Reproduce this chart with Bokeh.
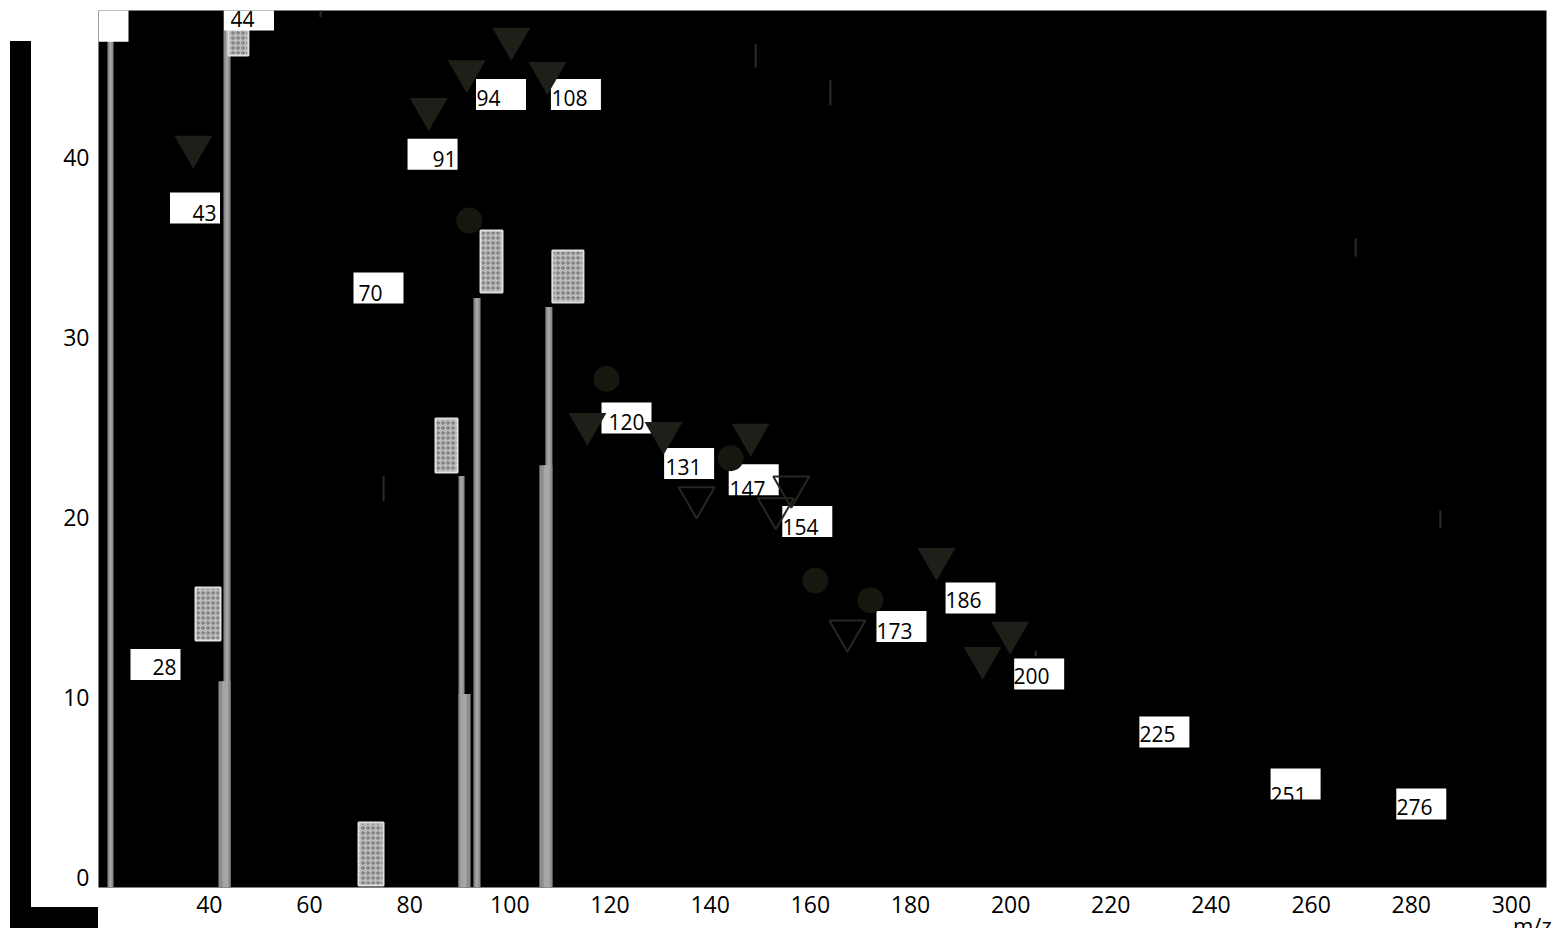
from bokeh.plotting import figure
from bokeh.models import Range1d, FixedTicker, BoxAnnotation, Div
from bokeh.layouts import column
from bokeh.core.properties import value
from bokeh.embed import file_html
from bokeh.resources import INLINE

# ---- data ----
x_lo, x_hi = 17.87, 307.0
y_lo, y_hi = -0.556, 48.17
x_ticks = [40, 60, 80, 100, 120, 140, 160, 180, 200, 220, 240, 260, 280, 300]
y_ticks = [0, 10, 20, 30, 40]
x_title = "m/z"

# grey peak bars (m/z position, top intensity)
bar_x = [20.27, 43.53, 43.03, 90.36, 90.96, 93.45, 107.8, 107.2]
bar_top = [100.0, 100.0, 10.9, 22.3, 10.2, 32.2, 31.7, 22.9]
bar_w = [1.2, 1.4, 2.4, 1.2, 2.4, 1.4, 1.4, 2.6]

# hatched blocks
blk_left = [37.24, 69.79, 85.16, 94.15, 108.5, 43.83]
blk_right = [42.23, 74.78, 89.56, 98.54, 114.7, 47.8]
blk_bottom = [13.17, -0.44, 22.5, 32.5, 31.94, 45.67]
blk_top = [16.11, 3.06, 25.5, 35.94, 34.83, 47.3]

# filled inverted triangles
tri_x = [36.8, 83.8, 91.4, 100.3, 107.5, 115.5, 130.7, 148.1, 185.2, 199.9, 194.4]
tri_y = [40.6, 42.7, 44.8, 46.6, 44.7, 25.2, 24.7, 24.6, 17.7, 13.6, 12.2]
# open inverted triangles
otri_x = [137.3, 156.2, 153.1, 167.4]
otri_y = [21.1, 21.7, 20.5, 13.7]
# circles
circ_x = [91.9, 119.3, 144.1, 161.0, 172.0]
circ_y = [36.5, 27.7, 23.3, 16.5, 15.4]

# peak labels
lab_text = ["44", "43", "28", "70", "91", "94", "108", "120", "131", "147",
            "154", "173", "186", "200", "225", "251", "276"]
box_x = [47.92, 37.14, 29.25, 73.78, 84.57, 98.24, 113.2, 123.3, 135.8, 148.7,
         159.4, 178.2, 192.0, 205.7, 230.7, 256.9, 282.0]
box_y = [47.92, 37.19, 11.83, 32.75, 40.19, 43.5, 43.5, 25.53, 23.0, 22.1,
         19.78, 13.94, 15.53, 11.31, 8.08, 5.19, 4.08]
txt_x = [44.23, 36.64, 28.65, 69.79, 84.56, 93.35, 108.33, 119.71, 131.09, 143.87,
         154.45, 173.22, 187.0, 200.58, 225.74, 251.9, 277.06]
txt_y = [47.67, 36.94, 11.67, 32.5, 39.94, 43.33, 43.33, 25.33, 22.78, 21.61,
         19.5, 13.72, 15.44, 11.22, 8.0, 4.56, 3.89]

# faint noise specks
noise_x = [62.2, 149.1, 164.0, 74.8, 268.9, 285.8, 205.0]
noise_y0 = [47.8, 45.0, 42.9, 20.9, 34.5, 19.4, 12.3]
noise_y1 = [48.2, 46.3, 44.3, 22.3, 35.5, 20.4, 12.6]

FONT = "Open Sans"

page_styles = {
    "background-color": "white",
    "background-image": "linear-gradient(black, black), linear-gradient(black, black)",
    "background-position": "10px 41px, 10px 907px",
    "background-size": "21px 887px, 88px 21px",
    "background-repeat": "no-repeat",
}

p = figure(frame_width=1448, frame_height=877,
           x_range=Range1d(x_lo, x_hi), y_range=Range1d(y_lo, y_hi),
           output_backend="svg", toolbar_location=None,
           min_border_left=98, min_border_right=9, min_border_top=10, min_border_bottom=41,
           background_fill_color="black", border_fill_color=None,
           outline_line_color=None, styles=page_styles)
p.grid.visible = False

for ax in (p.xaxis, p.yaxis):
    ax.axis_line_color = None
    ax.major_tick_line_color = None
    ax.minor_tick_line_color = None
    ax.major_tick_out = 0
    ax.major_tick_in = 0
    ax.major_label_text_font = FONT
    ax.major_label_text_font_size = "23px"
    ax.major_label_text_color = "black"
p.xaxis.ticker = FixedTicker(ticks=x_ticks)
p.yaxis.ticker = FixedTicker(ticks=y_ticks)
p.xaxis.major_label_standoff = 8
p.yaxis.major_label_standoff = 9

# bars
p.vbar(x=bar_x, width=bar_w, bottom=y_lo, top=bar_top,
       fill_color="#8c8c8c", line_color=None)
p.vbar(x=bar_x, width=[w * 0.35 for w in bar_w], bottom=y_lo, top=bar_top,
       fill_color="#a6a6a6", line_color=None)

# hatched blocks
p.quad(left=blk_left, right=blk_right, bottom=blk_bottom, top=blk_top,
       fill_color="#bcbcbc", hatch_pattern="ring", hatch_color="#6e6e6e",
       hatch_scale=5, line_color="#e0e0e0", line_width=2)

# noise
p.segment(x0=noise_x, y0=noise_y0, x1=noise_x, y1=noise_y1,
          line_color="#2c2c2c", line_width=2)

# label boxes and text
p.rect(x=box_x, y=box_y, width=50, height=31, width_units="screen",
       height_units="screen", fill_color="white", line_color=None)
p.text(x=txt_x, y=txt_y, text=lab_text, text_font=value(FONT),
       text_font_size="21px", text_color="black", text_align="left",
       text_baseline="alphabetic")

# markers
p.scatter(x=circ_x, y=circ_y, marker="circle", size=26,
          fill_color="#17170f", line_color=None)
p.scatter(x=tri_x, y=tri_y, marker="inverted_triangle", size=38,
          fill_color="#1f1f19", line_color=None)
p.scatter(x=otri_x, y=otri_y, marker="inverted_triangle", size=36,
          fill_color=None, line_color="#262622", line_width=2)

# white notch at top-left of the frame
p.add_layout(BoxAnnotation(left=x_lo, right=23.86, bottom=46.44, top=y_hi + 5,
                           fill_color="white", fill_alpha=1, line_color=None))

# x-axis title, partly cut by the bottom of the page as in the original
axis_title = Div(text=x_title, styles={
    "position": "absolute", "left": "1508px", "top": "905px",
    "height": "23px", "overflow": "hidden",
    "font-family": FONT, "font-size": "22px", "line-height": "30px",
    "color": "black", "white-space": "nowrap"})

layout = column(p, axis_title)

open("out.html", "w").write(file_html(layout, INLINE))
